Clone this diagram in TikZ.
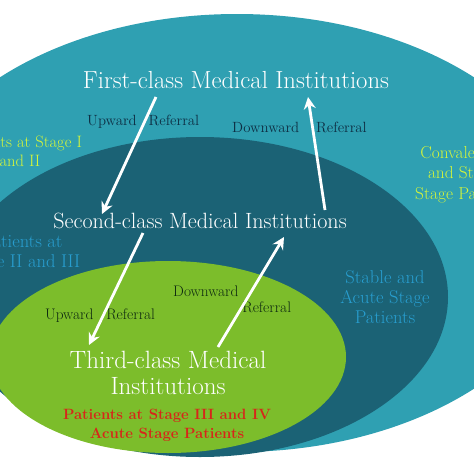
\documentclass[tikz,border=0pt]{standalone}
\usepackage{tikz}
\usetikzlibrary{arrows.meta}
\definecolor{outerteal}{RGB}{47,160,178}
\definecolor{innerteal}{RGB}{27,98,117}
\definecolor{careergreen}{RGB}{124,189,43}
\definecolor{stageyellow}{RGB}{213,245,58}
\definecolor{stageblue}{RGB}{40,158,208}
\definecolor{labelnavy}{RGB}{14,47,68}
\definecolor{labelgreen}{RGB}{14,42,16}
\definecolor{stagered}{RGB}{215,38,26}

\tikzset{
  level/.style={text=white,inner sep=0pt,anchor=base,font=\fontsize{24.7}{26}\selectfont},
  referral/.style={inner sep=0pt,anchor=base west,font=\fontsize{14.8}{16}\selectfont},
  stage/.style={inner sep=0pt,anchor=base,align=center,font=\fontsize{18.5}{20}\selectfont},
  referarrow/.style={draw=white,line width=2.8pt,-{Stealth[length=12pt,width=12pt,inset=4pt]}}
}

\begin{document}
\begin{tikzpicture}[x=1pt,y=-1pt]
\useasboundingbox (0,0) rectangle (474,474);
\clip (0,0) rectangle (474,474);

% the three levels
\fill [outerteal] (237,233) ellipse [x radius=337pt, y radius=219pt];
\fill [innerteal] (200,297) ellipse [x radius=248pt, y radius=160pt];
\fill [careergreen] (168,357) ellipse [x radius=178pt, y radius=96pt];

% institutions (multi-line nodes sit on their last baseline)
\node[level] (first) at (236,88) {First-class Medical Institutions};
\node[level,font=\fontsize{22.1}{24}\selectfont] (second) at (200,228) {Second-class Medical Institutions};
\node[level,align=center,font=\fontsize{25}{26}\selectfont] (third) at (168,394) {Third-class Medical\\Institutions};
\node[stage,text=stagered,font=\bfseries\fontsize{14.9}{19}\selectfont] (thirdpat) at (167,438) {Patients at Stage III and IV\\Acute Stage Patients};

% patients of each level
\node[stage,text=stageyellow,font=\fontsize{16.5}{19}\selectfont] (firstpat) at (20,166) {Patients at Stage I\\and II};
\node[stage,text=stageblue] (secondpat) at (22,267) {Patients at\\Stage II and III};
\node[stage,text=stageyellow,font=\fontsize{17.3}{20.5}\selectfont] (firstconv) at (465,199) {Convalescent\\and Stable\\Stage Patients};
\node[stage,text=stageblue] (secondconv) at (385,323) {Stable and\\Acute Stage\\Patients};

% referral labels
\node[referral,text=labelnavy] (upone) at (87,125) {Upward\hspace{12pt}Referral};
\node[referral,text=labelnavy] (downone) at (232,132) {Downward\hspace{17pt}Referral};
\node[referral,text=labelgreen,font=\fontsize{15.3}{16}\selectfont] (uptwo) at (45,319) {Upward\hspace{13pt}Referral};
\node[referral,text=labelgreen,align=left,font=\fontsize{15.3}{16}\selectfont] (downtwo) at (173,312) {Downward\\\hphantom{Downward}\hspace{4pt}Referral};

% arrows
\coordinate (upone s) at (156,97);
\coordinate (upone e) at (102,214);
\coordinate (downone s) at (325,210);
\coordinate (downone e) at (308,97);
\coordinate (uptwo s) at (143,233);
\coordinate (uptwo e) at (89,345);
\coordinate (downtwo s) at (218,347);
\coordinate (downtwo e) at (284,237);

\draw [referarrow] (upone s) -- (upone e);
\draw [referarrow] (downone s) -- (downone e);
\draw [referarrow] (uptwo s) -- (uptwo e);
\draw [referarrow] (downtwo s) -- (downtwo e);
\end{tikzpicture}
\end{document}
